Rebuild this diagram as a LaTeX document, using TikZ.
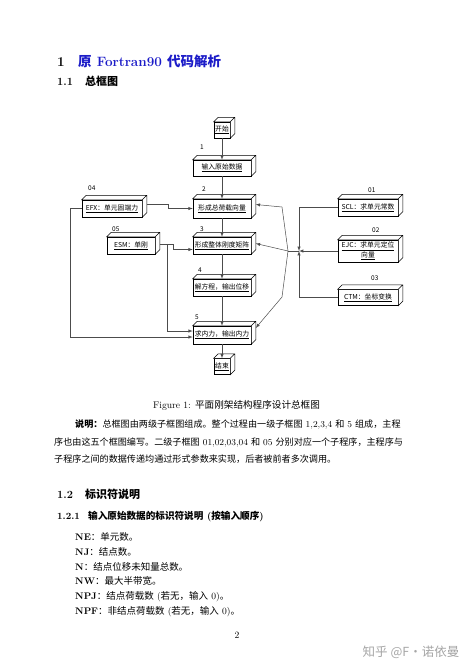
\documentclass[tikz,border=0pt]{standalone}
\usepackage{fontspec}
\newfontfamily\cjk{Noto Sans CJK SC}
\usetikzlibrary{calc}
\definecolor{secblue}{RGB}{28,28,200}
\XeTeXlinebreaklocale "zh"
\XeTeXlinebreakskip=0pt plus 1pt minus 0.3pt
\newcommand{\zh}[1]{{\cjk #1}}

\begin{document}
\begin{tikzpicture}[x=1pt, y=-1pt, box/.style={draw, line width=0.5pt, fill=white, inner sep=0.5pt, align=center, font=\cjk\fontsize{6.8}{7.6}\selectfont}, mainbox/.style={box, minimum width=58pt, minimum height=17pt}, endbox/.style={box, minimum width=16pt, minimum height=16pt}, sidebox/.style={box, minimum width=60pt, minimum height=17pt}, tag/.style={anchor=base west, inner sep=0pt, font=\cjk\fontsize{6.5}{7}\selectfont}, txt/.style={anchor=base west, inner sep=0pt, font=\fontsize{9.6}{12}\selectfont}, par/.style={txt, font=\fontsize{9.1}{12}\selectfont}, n/.style={-latex, line width=0.5pt, black!70}, e/.style={line width=0.5pt, black!70}]
            \fill[white] (0,0) rectangle (474,670);
            \useasboundingbox (0,0) rectangle (474,670);
            % headings
            \node[txt, font=\bfseries\fontsize{13.5}{16}\selectfont] (sec) at (57,66) {1};
            \node[txt, font=\bfseries\fontsize{13.5}{16}\selectfont, text=secblue] (sectitle) at (78,66) {\zh{原} Fortran90 \zh{代码解析}};
            \node[txt, font=\bfseries\fontsize{11}{13}\selectfont] (sub) at (57,85) {1.1};
            \node[txt, font=\bfseries\fontsize{11}{13}\selectfont] (subtitle) at (85,85) {\zh{总框图}};
            % main column
            \node[endbox] (start) at (222,130) {\underline{开始}};
            \node[mainbox, minimum height=16pt] (b1) at (222,168) {\underline{输入原始数据}};
            \node[mainbox, minimum height=19pt] (b2) at (222,208.5) {\underline{形成总荷载向量}};
            \node[mainbox] (b3) at (222,245.5) {\underline{形成整体刚度矩阵}};
            \node[mainbox] (b4) at (222,287.5) {\underline{解方程，输出位移}};
            \node[mainbox, minimum height=18pt] (b5) at (222,335) {\underline{求内力，输出内力}};
            \node[endbox] (stop) at (222,366.5) {\underline{结束}};
            % sub programs
            \node[sidebox] (efx) at (112,208.5) {\underline{EFX：单元固端力}};
            \node[box, minimum width=48pt, minimum height=17pt] (esm) at (131,245.5) {\underline{ESM：单刚}};
            \node[sidebox] (scl) at (368,207.5) {\underline{SCL：求单元常数}};
            \node[sidebox, minimum height=22pt] (ejc) at (368,251) {\underline{EJC：求单元定位}\\\underline{向量}};
            \node[sidebox, minimum height=16pt] (ctm) at (368,297.5) {\underline{CTM：坐标变换}};
            % numbers
            \node[tag] (t1) at (200,149.5) {1};
            \node[tag] (t2) at (202,191) {2};
            \node[tag] (t3) at (200,231.5) {3};
            \node[tag] (t4) at (198,272.5) {4};
            \node[tag] (t5) at (195,319) {5};
            \node[tag] (t04) at (88,190.5) {04};
            \node[tag] (t05) at (112,231) {05};
            \node[tag] (t01) at (368,192.5) {01};
            \node[tag] (t02) at (372,232.5) {02};
            \node[tag] (t03) at (371,280.5) {03};
            % 3d faces
            \foreach \b in {start,b1,b2,b3,b4,b5,stop,efx,esm,scl,ejc,ctm}
                \filldraw[fill=white, line width=0.5pt] (\b.north west) -- ++(4.5pt,4.5pt) -- ($(\b.north east)+(4.5pt,4.5pt)$) -- ($(\b.south east)+(4.5pt,4.5pt)$) -- (\b.south east) -- (\b.north east) -- cycle (\b.north east) -- ++(4.5pt,4.5pt);
            % edges
            \draw [n] (start) -- (b1);
            \draw [n] (b1) -- (b2);
            \draw [n] (b2) -- (b3);
            \draw [n] (b3) -- (b4);
            \draw [n] (b4) -- (b5);
            \draw [n] (b5) -- (stop);
            \draw [n] ([shift={(4.5pt,4pt)}]efx.east) -- ++(21.5,0) |- (b2.west);
            \draw [n] (efx.west) -- ++(-12,0) |- ([yshift=-2pt]b5.west);
            \draw [n] ([shift={(4.5pt,1pt)}]esm.east) -- ++(13.5,0) |- ([yshift=-4pt]b3.west);
            \draw [n] ([shift={(4.5pt,1pt)}]esm.east) -- ++(7.5,0) |- ([yshift=4pt]b5.west);
            \coordinate (jn) at (299,251);
            \coordinate (jl) at (288,251);
            \draw [n] (scl.west) -| (jn);
            \draw [n] (ctm.west) -| (jn);
            \draw [n] (ejc.west) -- (jn);
            \draw [e] (jn) -- (jl);
            \draw [n] (jl) -- (282,207) -- ([shift={(4.5pt,4pt)}]b2.east);
            \draw [n] (jl) -- ([shift={(4.5pt,2pt)}]b3.east);
            \draw [n] (jl) -- (282,297) -- ([shift={(4.5pt,7pt)}]b5.east);
            % caption and text
            \node[txt, anchor=base] (cap) at (236.5,408.5) {Figure 1: \zh{平面刚架结构程序设计总框图}};
            \node[par, text width=338pt] (p1) at (75,427.5) {\parfillskip=0pt\tolerance=9999\noindent{\cjk\bfseries 说明：}\zh{总框图由两级子框图组成。整个过程由一级子框图} 1,2,3,4 \zh{和} 5 \zh{组成，主程}};
            \node[par, text width=359pt] (p2) at (54,445.5) {\parfillskip=0pt\tolerance=9999\noindent\zh{序也由这五个框图编写。二级子框图} 01,02,03,04 \zh{和} 05 \zh{分别对应一个子程序，主程序与}};
            \node[par] (p3) at (54,462.5) {\zh{子程序之间的数据传递均通过形式参数来实现，后者被前者多次调用。}};
            \node[txt, font=\bfseries\fontsize{11}{13}\selectfont] (sub2) at (57,498) {1.2};
            \node[txt, font=\bfseries\fontsize{11}{13}\selectfont] (sub2title) at (85,498) {\zh{标识符说明}};
            \node[txt, font=\bfseries\fontsize{9.6}{12}\selectfont] (subsub) at (57,519.5) {1.2.1};
            \node[txt, font=\bfseries\fontsize{9.6}{12}\selectfont] (subsubtitle) at (88,519.5) {\zh{输入原始数据的标识符说明} (\zh{按输入顺序})};
            % identifiers
            \node[txt, font=\fontsize{9.5}{12}\selectfont] (ne) at (75,540.5) {\textbf{NE}\zh{：单元数。}};
            \node[txt, font=\fontsize{9.5}{12}\selectfont] (nj) at (75,555.3) {\textbf{NJ}\zh{：结点数。}};
            \node[txt, font=\fontsize{9.5}{12}\selectfont] (nn) at (75,570.1) {\textbf{N}\zh{：结点位移未知量总数。}};
            \node[txt, font=\fontsize{9.5}{12}\selectfont] (nw) at (75,584.9) {\textbf{NW}\zh{：最大半带宽。}};
            \node[txt, font=\fontsize{9.5}{12}\selectfont] (npj) at (75,599.7) {\textbf{NPJ}\zh{：结点荷载数} (\zh{若无，输入} 0)\zh{。}};
            \node[txt, font=\fontsize{9.5}{12}\selectfont] (npf) at (75,614.5) {\textbf{NPF}\zh{：非结点荷载数} (\zh{若无，输入} 0)\zh{。}};
            \node[txt, anchor=base] (page) at (237,638.5) {2};
            \node[font=\cjk\fontsize{12.5}{14}\selectfont, text=black!35] (wm) at (411,652) {知乎 @F·诺依曼};
        \end{tikzpicture}
\end{document}
